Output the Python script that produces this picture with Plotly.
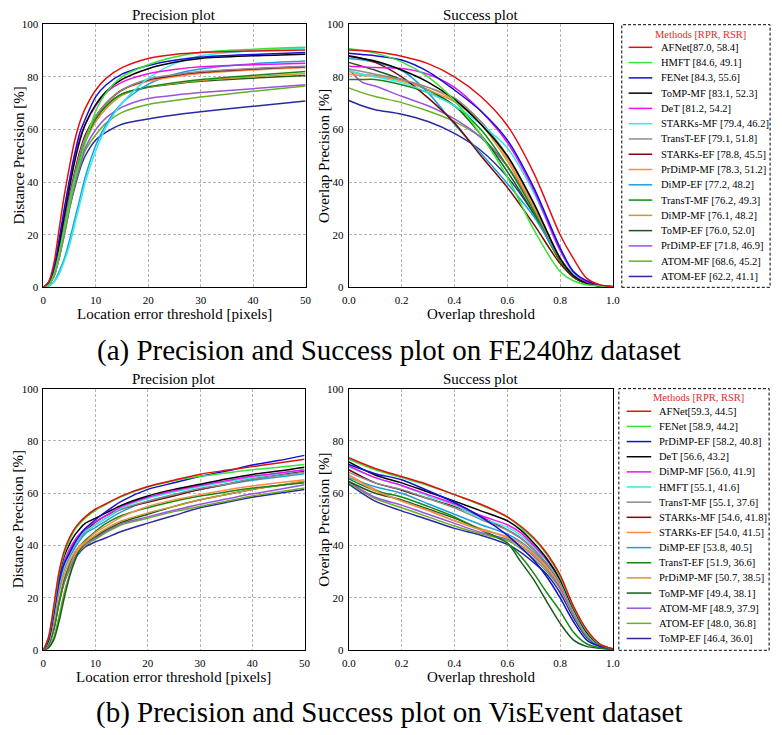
import plotly.graph_objects as go

# ---------------- data ----------------
COLORS = ["#e01010", "#33e633", "#1010d8", "#000000", "#ee10ee", "#33eaea", "#8c8c8c", "#7a0a0a",
          "#ff8a4a", "#1e9ee0", "#128a12", "#cc9930", "#1a5a1a", "#9a55dd", "#6aae25", "#2a2aa0"]

METHODS_A = ["AFNet", "HMFT", "FENet", "ToMP-MF", "DeT", "STARKs-MF", "TransT-EF", "STARKs-EF",
             "PrDiMP-MF", "DiMP-EF", "TransT-MF", "DiMP-MF", "ToMP-EF", "PrDiMP-EF", "ATOM-MF", "ATOM-EF"]
RPR_A = [87.0, 84.6, 84.3, 83.1, 81.2, 79.4, 79.1, 78.8, 78.3, 77.2, 76.2, 76.1, 76.0, 71.8, 68.6, 62.2]
RSR_A = [58.4, 49.1, 55.6, 52.3, 54.2, 46.2, 51.8, 45.5, 51.2, 48.2, 49.3, 48.2, 52.0, 46.9, 45.2, 41.1]

METHODS_B = ["AFNet", "FENet", "PrDiMP-EF", "DeT", "DiMP-MF", "HMFT", "TransT-MF", "STARKs-MF",
             "STARKs-EF", "DiMP-EF", "TransT-EF", "PrDiMP-MF", "ToMP-MF", "ATOM-MF", "ATOM-EF", "ToMP-EF"]
RPR_B = [59.3, 58.9, 58.2, 56.6, 56.0, 55.1, 55.1, 54.6, 54.0, 53.8, 51.9, 50.7, 49.4, 48.9, 48.0, 46.4]
RSR_B = [44.5, 44.2, 40.8, 43.2, 41.9, 41.6, 37.6, 41.8, 41.5, 40.5, 36.6, 38.5, 38.1, 37.9, 36.8, 36.0]

# (a) FE240hz precision plot
PREC_X_A = [0, 1, 2, 3, 4, 5, 6, 7, 8, 10, 12, 15, 20, 25, 30, 40, 50]
PREC_A = [
    [0, 2, 9, 22, 35, 46, 56, 63, 68, 75, 79.5, 83.5, 87, 88.5, 89.2, 89.8, 90.2],
    [0, 1, 5, 13, 22, 32, 41, 48, 55, 67, 74, 80, 84.6, 87.5, 89.3, 90.5, 91.2],
    [0, 2, 7, 18, 30, 41, 51, 59, 64, 72.5, 77, 81, 84.3, 86.3, 87.5, 88.5, 89.2],
    [0, 1.5, 6, 16, 27, 38, 48, 56, 62, 69.5, 74.5, 79, 83.1, 85.5, 87, 88, 88.6],
    [0, 1.5, 7, 17, 29, 40, 50, 57, 62, 69, 74, 78, 81.2, 82.8, 83.8, 84.6, 85.2],
    [0, 0.5, 2, 5, 10, 16, 24, 32, 40, 52, 61, 70, 79.4, 85, 88, 90, 91],
    [0, 1, 5, 13, 24, 34, 43, 51, 57, 65, 70, 75, 79.1, 80.8, 82, 83.2, 84],
    [0, 1, 5, 14, 24, 35, 44, 52, 58, 65, 70, 75, 78.8, 80.5, 81.7, 83, 83.8],
    [0, 1, 5, 13, 23, 34, 43, 51, 57, 65, 70, 75, 78.3, 80, 81.3, 82.6, 83.5],
    [0, 0.5, 2, 6, 11, 18, 26, 34, 42, 54, 62, 70, 77.2, 81, 83, 85, 86],
    [0, 1, 5, 13, 23, 33, 42, 50, 56, 64, 69, 73.5, 76.2, 77.8, 79, 80.6, 82],
    [0, 1, 4, 12, 22, 32, 41, 49, 55, 63, 68, 73, 76.1, 77.5, 78.6, 80, 81.3],
    [0, 1, 5, 13, 23, 33, 42, 50, 56, 64, 69, 73.5, 76.0, 77.3, 78.3, 79.5, 80.5],
    [0, 1, 4, 12, 21, 31, 40, 47, 53, 60, 64.5, 68.5, 71.8, 73, 74, 75.5, 77],
    [0, 1, 4, 11, 20, 30, 39, 46, 52, 58, 62.5, 66.5, 69.5, 71, 72.3, 74.5, 76.5],
    [0, 1, 4, 11, 20, 30, 38, 45, 50, 56, 59, 62, 64, 65.5, 66.7, 68.8, 70.8],
]

# (a) FE240hz success plot
SUCC_X_A = [0, 0.05, 0.1, 0.2, 0.3, 0.4, 0.5, 0.6, 0.7, 0.8, 0.85, 0.9, 0.95, 1.0]
SUCC_A = [
    [90.2, 90, 89.5, 87.8, 85, 80, 72.5, 61.5, 43.5, 20, 11, 3.5, 1, 0.3],
    [90.8, 90, 89, 85.7, 80, 71, 58, 42, 22, 6, 2.5, 1, 0.5, 0.2],
    [89, 88.5, 88, 86.4, 82, 75, 67, 56, 38, 15, 6, 2.5, 0.8, 0.2],
    [87.8, 87, 86, 82.6, 78, 71.4, 62, 50, 32, 11, 4.5, 1.5, 0.5, 0.2],
    [84, 83.8, 83.5, 83.2, 81, 76, 67, 55, 37, 14, 6, 2, 0.6, 0.2],
    [82.5, 81, 80, 77.8, 74, 69, 62, 53, 36, 14, 5.5, 2, 0.6, 0.2],
    [83, 82, 81, 79, 76, 72, 63, 50, 32, 11, 4.5, 1.5, 0.5, 0.2],
    [88, 87, 85.5, 80, 72, 62.5, 50, 38, 24, 9, 4, 1.5, 0.5, 0.2],
    [81, 80.5, 80, 78.5, 76, 71, 63, 49, 31, 11, 4.5, 1.5, 0.5, 0.2],
    [87, 86.5, 85.5, 82.5, 74, 62, 51, 39.5, 27, 11, 5, 2, 0.6, 0.2],
    [79, 79, 79, 77, 74, 69, 60, 46, 29, 10, 4, 1.5, 0.5, 0.2],
    [82, 81, 80.5, 78.5, 75, 70.5, 62, 48, 30, 10, 4, 1.5, 0.5, 0.2],
    [85.5, 84, 82.5, 79, 75, 69, 58, 44, 28, 10, 4, 1.5, 0.5, 0.2],
    [83, 78, 76.5, 72.6, 69, 64, 57, 46, 30, 11, 4.5, 1.5, 0.5, 0.2],
    [75.8, 74, 72.5, 70.2, 67, 63, 57, 46, 30, 10, 4, 1.5, 0.5, 0.2],
    [71, 69, 67.5, 65.8, 63, 58.5, 52, 42, 28, 11, 4, 1.5, 0.5, 0.2],
]

# (b) VisEvent precision plot
PREC_X_B = [0, 1, 2, 3, 4, 5, 6, 7, 8, 10, 12, 15, 20, 25, 30, 35, 40, 45, 50]
PREC_B = [
    [0, 5, 17, 30, 38, 43, 46.5, 49, 51, 54, 56, 59, 62.6, 65, 67.3, 68.8, 70.2, 71.6, 73],
    [0, 5, 16, 29, 37, 42, 46, 48.5, 50.5, 53.5, 55.8, 58.8, 62.4, 64.8, 66.5, 67.8, 69, 70, 71],
    [0, 4, 14, 26, 33, 37, 41, 44, 46.5, 50, 53, 57, 61.5, 64, 66.5, 68.5, 70.8, 72.5, 74.5],
    [0, 4, 15, 28, 36, 40.5, 44, 46.5, 48.5, 50.5, 52.5, 55.5, 59, 61.5, 63.5, 65.5, 67.2, 68.5, 70],
    [0, 4, 14, 26, 34, 38.5, 42, 44.5, 46.5, 49.2, 51.5, 55, 58.5, 61, 63, 64.8, 66.5, 67.8, 69],
    [0, 4, 13, 25, 32, 36.5, 40.5, 43.5, 45.5, 48, 50.5, 54.5, 58, 60.5, 62.5, 64.3, 66, 67.5, 68.9],
    [0, 3, 12, 23, 31, 36, 40, 43, 45, 48, 50.5, 54, 57, 59.5, 61.8, 63.5, 65.5, 66.8, 68],
    [0, 4, 14, 26, 33, 37.5, 41, 43.5, 45.5, 49, 51.5, 54, 56.6, 59, 61.5, 63.5, 65.5, 67, 68.5],
    [0, 3, 11, 22, 29, 34, 37.5, 40, 41.5, 45, 47.5, 51, 55, 57.5, 59.5, 61.3, 62.8, 64, 65.2],
    [0, 3, 12, 24, 31, 35.5, 39, 42, 44.5, 47, 49.5, 53, 57, 59.5, 61.5, 63.3, 65, 66.2, 67.5],
    [0, 2, 8, 18, 27, 33, 37.5, 40, 42, 45.5, 48.5, 51.5, 54.5, 57, 59, 60.5, 62, 63, 64],
    [0, 2, 9, 19, 27, 32, 36.5, 39, 41, 44, 46.5, 49.5, 52.5, 55, 57.5, 59.5, 61.5, 63, 64.7],
    [0, 1, 4, 11, 20, 28, 34, 38.5, 41, 43.5, 46, 49, 52, 55, 57.5, 59.5, 61.5, 63, 64.5],
    [0, 2, 8, 18, 26, 31, 35.5, 38.5, 40.5, 43, 45.5, 48.5, 51, 53.5, 55.8, 57.8, 59.8, 61.5, 63.3],
    [0, 1, 5, 13, 22, 29, 34.5, 38, 40, 42.5, 45, 48, 50.5, 53, 55, 57, 59, 60.5, 62],
    [0, 2, 8, 18, 26, 31, 35, 37.5, 39.5, 41.5, 43, 45.5, 48.6, 51.5, 54.5, 56.5, 58.5, 60, 61.5],
]

# (b) VisEvent success plot
SUCC_X_B = [0, 0.1, 0.2, 0.3, 0.4, 0.5, 0.6, 0.65, 0.7, 0.75, 0.8, 0.85, 0.9, 0.95, 1.0]
SUCC_B = [
    [73.6, 69.5, 66.4, 63.3, 59.5, 55.8, 51, 47.5, 43, 37, 28.8, 17, 8, 2.5, 0.5],
    [73, 69, 66, 63, 59.5, 55.5, 51, 47, 42.5, 36.5, 28, 16.5, 7.5, 2.3, 0.5],
    [71, 67.5, 65.2, 61, 56.5, 51, 44, 39.5, 34.5, 28, 20, 11, 4, 1.5, 0.5],
    [72, 67, 64, 60.5, 57, 53.3, 49.5, 46, 41, 35, 27, 16, 7, 2.2, 0.5],
    [70.5, 66, 63, 59.5, 56, 51.5, 48, 45, 40, 34.5, 27, 16, 7, 2.2, 0.5],
    [70, 66, 63, 59, 55.5, 50.5, 47, 44, 39.5, 34, 26.5, 15.5, 6.5, 2, 0.5],
    [68, 64, 61.5, 58, 54.5, 50, 46, 43, 38.5, 33, 26, 15, 6.5, 2, 0.5],
    [69, 64, 61.2, 58, 55, 51, 46, 43, 38.5, 33, 26, 15.5, 6.5, 2, 0.5],
    [67, 61, 57, 53.5, 49.5, 46, 43.5, 41, 37, 32, 25, 15, 6.5, 2, 0.5],
    [66, 62.5, 60, 56, 52, 48, 44.5, 41.5, 37.5, 32.5, 25.5, 15, 6.5, 2, 0.5],
    [65.5, 61, 58.6, 55, 51, 46, 41, 36, 29.5, 22, 15, 7, 2.5, 1, 0.5],
    [67, 61.5, 57, 53.5, 49.5, 46.5, 43, 40, 36.5, 31.5, 25, 14.5, 6, 2, 0.5],
    [64.5, 60, 57.5, 54, 50.5, 46, 41, 34, 27, 18.5, 10.3, 4, 1.5, 0.8, 0.4],
    [64.5, 58.5, 55.5, 52, 48.5, 45, 42.5, 40, 36, 31, 24, 14, 6, 2, 0.5],
    [64, 58, 54.5, 51, 47.5, 44.5, 42, 39, 35, 30, 23.5, 13.5, 5.5, 1.8, 0.5],
    [63.5, 57, 53.3, 50, 46.6, 44, 40.5, 37.5, 33.5, 29, 22, 12.5, 5, 1.6, 0.5],
]

SUBPLOT_TITLES = ["Precision plot", "Success plot"]
X_TITLES = ["Location error threshold [pixels]", "Overlap threshold"]
Y_TITLES = ["Distance Precision [%]", "Overlap Precision [%]"]
CAPTIONS = ["(a) Precision and Success plot on FE240hz dataset",
            "(b) Precision and Success plot on VisEvent dataset"]
LEGEND_TITLE = "Methods [RPR, RSR]"

# ---------------- layout helpers ----------------
W, H = 782, 735
FONT = "Liberation Serif, Times New Roman, serif"


def fx(px):
    return px / W


def fy(py):
    return 1 - py / H


fig = go.Figure()

panels = [
    ("x", "y", PREC_X_A, PREC_A),
    ("x2", "y2", SUCC_X_A, SUCC_A),
    ("x3", "y3", PREC_X_B, PREC_B),
    ("x4", "y4", SUCC_X_B, SUCC_B),
]
for xa, ya, xs, series in panels:
    # draw lower-ranked first so the top methods sit on top
    for i in reversed(range(len(series))):
        fig.add_trace(go.Scatter(
            x=xs, y=series[i], mode="lines", xaxis=xa, yaxis=ya,
            line=dict(color=COLORS[i], width=1.5, shape="spline", smoothing=0.8),
            showlegend=False, hoverinfo="skip"))

axis_common = dict(showline=True, mirror=True, linecolor="black", linewidth=1,
                   showgrid=True, gridcolor="#b4b4b4", gridwidth=1, griddash="3px,2px",
                   zeroline=False, ticks="outside", ticklen=2, tickcolor="rgba(0,0,0,0)",
                   tickfont=dict(family=FONT, size=11, color="black"), fixedrange=True)

# pixel boxes: (left, right, top, bottom)
boxes = {
    "1": (37, 304, 18.5, 286),
    "2": (348, 617, 18.5, 286),
    "3": (37, 303, 389, 655),
    "4": (348, 617, 389, 655),
}
layout_axes = {}
for k, (l, r, t, b) in boxes.items():
    sfx = "" if k == "1" else k
    is_prec = k in ("1", "3")
    layout_axes["xaxis" + sfx] = dict(axis_common, domain=[fx(l), fx(r)], anchor="y" + sfx,
                                      range=[0, 50] if is_prec else [0, 1],
                                      dtick=10 if is_prec else 0.2,
                                      tickformat="d" if is_prec else ".1f")
    layout_axes["yaxis" + sfx] = dict(axis_common, domain=[fy(b), fy(t)], anchor="x" + sfx,
                                      range=[0, 100], dtick=20)

annotations = []
shapes = []
for k, (l, r, t, b) in boxes.items():
    is_prec = k in ("1", "3")
    idx = 0 if is_prec else 1
    cx = (l + r) / 2
    annotations.append(dict(text=SUBPLOT_TITLES[idx], x=fx(cx), y=fy(max(t - 19, 0)), xref="paper",
                            yref="paper", showarrow=False, borderpad=0,
                            font=dict(family=FONT, size=15, color="black"),
                            xanchor="center", yanchor="top"))
    annotations.append(dict(text=X_TITLES[idx], x=fx(cx), y=fy(b + 27), xref="paper", yref="paper",
                            showarrow=False, font=dict(family=FONT, size=15, color="black"),
                            xanchor="center", yanchor="middle"))
    annotations.append(dict(text=Y_TITLES[idx], x=fx(l - 25), y=fy((t + b) / 2), xref="paper", yref="paper",
                            showarrow=False, textangle=-90, font=dict(family=FONT, size=15, color="black"),
                            xanchor="center", yanchor="middle"))

for cap, cy in zip(CAPTIONS, [350, 718]):
    annotations.append(dict(text=cap, x=fx(389), y=fy(cy), xref="paper", yref="paper",
                            showarrow=False, font=dict(family=FONT, size=29, color="black"),
                            xanchor="center", yanchor="middle"))

# legends (drawn as text + short line samples inside a dashed box)
legend_specs = [
    (METHODS_A, RPR_A, RSR_A, (626, 777, 19, 286), 29, 42, 15.53, 633, 657, 664),
    (METHODS_B, RPR_B, RSR_B, (623, 776, 389, 655), 398, 412, 15.4, 631, 656, 662),
]
for names, rprs, rsrs, (l, r, t, b), ty, y0, dy, lx0, lx1, tx in legend_specs:
    shapes.append(dict(type="rect", xref="paper", yref="paper", x0=fx(l), x1=fx(r), y0=fy(b), y1=fy(t),
                       line=dict(color="black", width=1, dash="3px,2px")))
    annotations.append(dict(text=LEGEND_TITLE, x=fx((l + r) / 2 + 5), y=fy(ty), xref="paper", yref="paper",
                            showarrow=False, font=dict(family=FONT, size=10.5, color="#e8282c"),
                            xanchor="center", yanchor="middle"))
    for i, (n, p, s) in enumerate(zip(names, rprs, rsrs)):
        yy = y0 + i * dy
        sep = "" if i == 0 else " "
        shapes.append(dict(type="line", xref="paper", yref="paper", x0=fx(lx0), x1=fx(lx1),
                           y0=fy(yy), y1=fy(yy), line=dict(color=COLORS[i], width=1.5)))
        annotations.append(dict(text=f"{n}{sep}[{p:.1f}, {s:.1f}]", x=fx(tx), y=fy(yy), xref="paper",
                                yref="paper", showarrow=False,
                                font=dict(family=FONT, size=10.5, color="black"),
                                xanchor="left", yanchor="middle"))

fig.update_layout(
    width=W, height=H, margin=dict(l=0, r=0, t=0, b=0),
    paper_bgcolor="white", plot_bgcolor="white",
    font=dict(family=FONT, color="black"),
    annotations=annotations, shapes=shapes, showlegend=False,
    **layout_axes)

# remove the browser's default page margin so the figure fills the window exactly
fig.write_html("out.html", config={"displayModeBar": False},
               post_script="document.body.style.margin='0';")
